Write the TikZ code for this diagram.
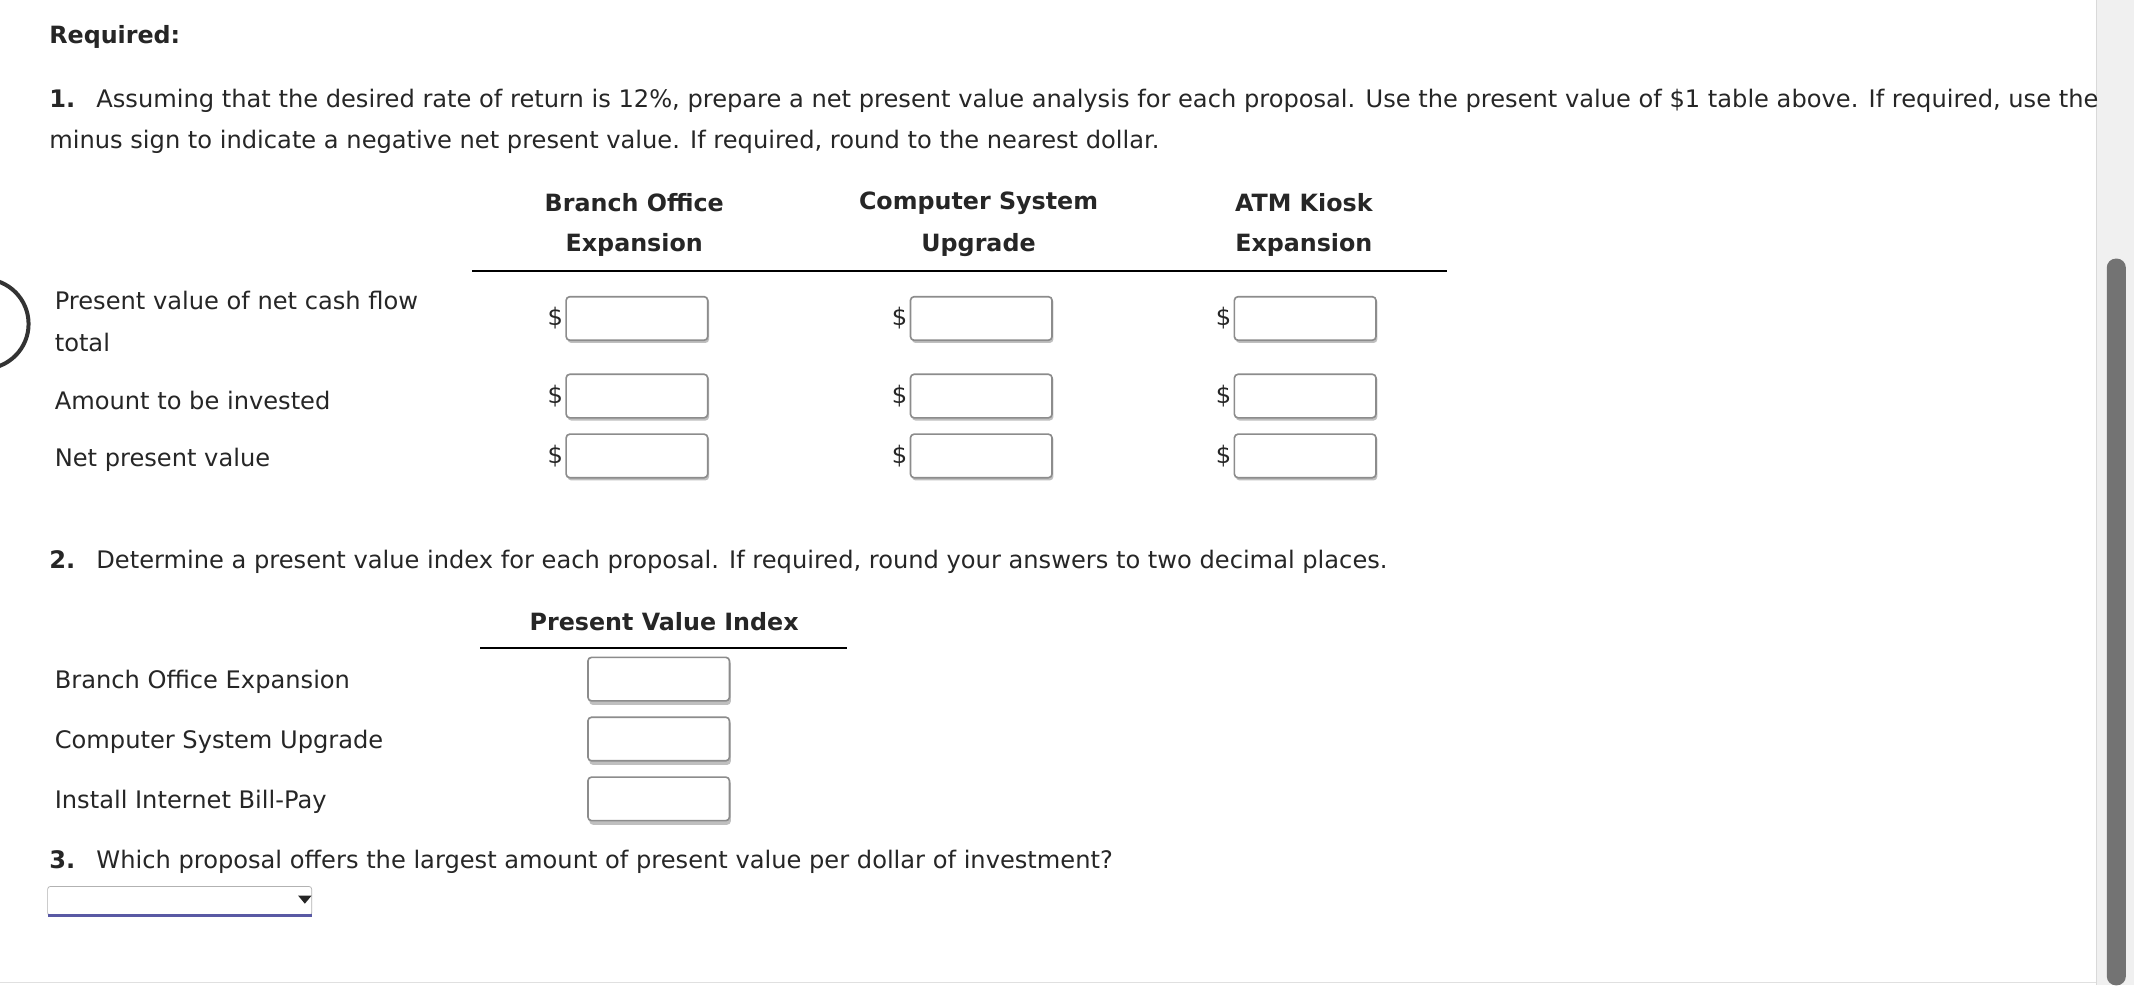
\documentclass[tikz,border=0pt]{standalone}
\usepackage{fontspec}
\setmainfont{DejaVu Sans}
\begin{document}
\begin{tikzpicture}[x=0.75pt,y=-0.75pt,
  txt/.style={anchor=west,inner sep=0pt,font=\fontsize{13.3}{15}\selectfont,text=black!85},
  hd/.style={anchor=center,inner sep=0pt,font=\fontsize{13.1}{15}\selectfont\bfseries,text=black!85},
  inbox/.style={draw=black!45,line width=0.9pt,rounded corners=2pt,minimum width=78pt,minimum height=24pt,inner sep=0pt,fill=white},
  dol/.style={anchor=center,inner sep=0pt,font=\fontsize{13.3}{15}\selectfont,text=black!85}]
\useasboundingbox (0,0) rectangle (1568,724);
\fill[white] (0,0) rectangle (1568,724);
% scrollbar
\fill[black!6] (1540,0) rectangle (1568,724);
\draw[black!15] (1540,0) -- (1540,724);
\fill[black!55,rounded corners=5pt] (1548,190) rectangle (1562,724);
\draw[black!12] (0,722) -- (1540,722);
% circle fragment
\draw[line width=2.2pt,black!80] (-12,238) circle (33);
\node[txt,font=\fontsize{13.1}{15}\selectfont\bfseries] (req) at (36,27) {Required:};
\node[txt] (p1a) at (36,74) {\textbf{1.}\hspace{0.45em} Assuming that the desired rate of return is 12\%, prepare a net present value analysis for each proposal. Use the present value of \$1 table above. If required, use the};
\node[txt] (p1b) at (36,104) {minus sign to indicate a negative net present value. If required, round to the nearest dollar.};
\foreach \x/\a/\b/\n in {466/Branch Office/Expansion/c1,719/Computer System/Upgrade/c2,958/ATM Kiosk/Expansion/c3}{
  \node[hd] (\n a) at (\x,149) {\a};
  \node[hd] (\n b) at (\x,180) {\b};
}
\draw[black,line width=0.9pt] (347,199) -- (1063,199);
\node[txt] (r1a) at (40,221) {Present value of net cash flow};
\node[txt] (r1b) at (40,252) {total};
\node[txt] (r2) at (40,294) {Amount to be invested};
\node[txt] (r3) at (40,338) {Net present value};
\foreach \y/\r in {234/a,291/b,335/c}{
  \foreach \x/\c in {468/1,721/2,959/3}{
    \fill[black!25,rounded corners=2pt] (\x-51,\y-15) rectangle (\x+53,\y+18);
    \node[inbox] (b\r\c) at (\x,\y) {};
    \node[dol] (d\r\c) at (\x-60,\y) {\$};
  }
}
\node[txt] (p2) at (36,413) {\textbf{2.}\hspace{0.45em} Determine a present value index for each proposal. If required, round your answers to two decimal places.};
\node[hd] (pvi) at (488,457) {Present Value Index};
\draw[black,line width=0.9pt] (353,476) -- (622,476);
\foreach \y/\t/\n in {501/Branch Office Expansion/i1,545/Computer System Upgrade/i2,589/Install Internet Bill-Pay/i3}{
  \node[txt] (l\n) at (40,\y) {\t};
  \fill[black!25,rounded corners=2pt] (433,\y-16) rectangle (537,\y+17);
  \node[inbox] (b\n) at (484,\y-2) {};
}
\node[txt] (p3) at (36,633) {\textbf{3.}\hspace{0.45em} Which proposal offers the largest amount of present value per dollar of investment?};
\node[draw=black!30,fill=white,rounded corners=1.5pt,minimum width=145.5pt,minimum height=16pt,inner sep=0pt] (dd) at (132,662) {};
\draw[line width=1.6pt,blue!45!black!65!white] (35,672.5) -- (229,672.5);
\fill[black!85] (219,658) -- (229,658) -- (224,664) -- cycle;
\end{tikzpicture}
\end{document}
